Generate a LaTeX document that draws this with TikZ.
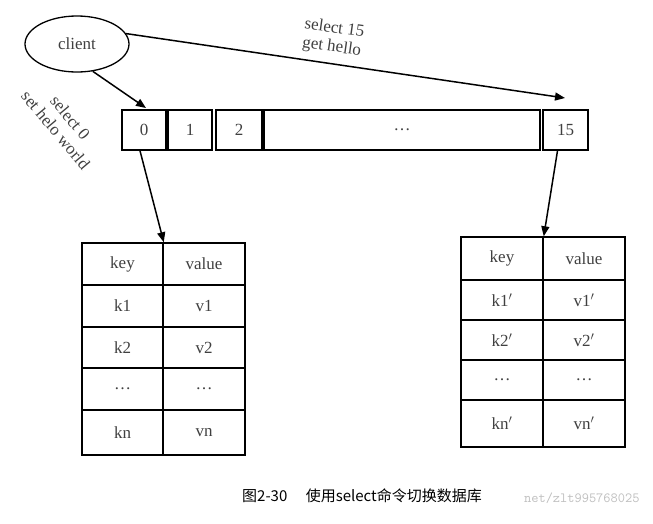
\documentclass[tikz,border=0pt]{standalone}
\usepackage{fontspec}
\setmainfont{Liberation Serif}
\newfontfamily\cjk{Noto Sans CJK SC}
\usetikzlibrary{shapes.geometric,arrows.meta}
\begin{document}
\begin{tikzpicture}[x=1pt,y=-1pt,
  cell/.style={draw,line width=1.5pt,minimum height=0pt,inner sep=0pt,font=\fontsize{17}{19}\selectfont,text=black!75},
  arr/.style={-{Triangle[length=10pt,width=8pt]},line width=1.5pt},
  lbl/.style={font=\fontsize{17}{19}\selectfont,text=black!75,align=center}]
\useasboundingbox (0,0) rectangle (653,523);
\node[draw,ellipse,line width=1.3pt,minimum width=104pt,minimum height=56pt,font=\fontsize{17}{19}\selectfont,text=black!75] (client) at (77,44) {client};
\def\cellbox#1#2#3#4{\node[cell,minimum width=#3-#2,minimum height=40pt] (#1) at ({(#2+#3)/2},130) {#4};}
\cellbox{b0}{122}{166}{0}
\cellbox{b1}{168}{212}{1}
\cellbox{b2}{216}{262}{2}
\cellbox{bd}{264}{540}{\dots}
\cellbox{b15}{543}{588}{15}
\coordinate (t0) at (146,108);
\coordinate (t15) at (565,98);
\draw[arr] (client.-60) -- (t0);
\draw[arr] (client.12) -- (t15);
\node[lbl,rotate=-8] (l15) at (333,38) {select 15\\get hello};
\node[lbl,rotate=-50] (l0) at (63,124) {select 0\\set helo world};
\foreach \a/\b/\k/\v/\n in {243/285/key/value/L0,285/327/k1/v1/L1,327/368/k2/v2/L2,368/410/\dots/\dots/L3,410/455/kn/vn/L4}{
  \node[cell,minimum width=81pt,minimum height=\b-\a] (\n k) at ({(82+163)/2},{(\a+\b)/2}) {\k};
  \node[cell,minimum width=82pt,minimum height=\b-\a] (\n v) at ({(163+245)/2},{(\a+\b)/2}) {\v};
}
\foreach \a/\b/\k/\v/\n in {237/280/key/value/R0,280/320/k1$'$/v1$'$/R1,320/360/k2$'$/v2$'$/R2,360/400/\dots/\dots/R3,400/447/kn$'$/vn$'$/R4}{
  \node[cell,minimum width=82pt,minimum height=\b-\a] (\n k) at ({(461+543)/2},{(\a+\b)/2}) {\k};
  \node[cell,minimum width=82pt,minimum height=\b-\a] (\n v) at ({(543+625)/2},{(\a+\b)/2}) {\v};
}
\draw[arr] ([xshift=-4pt]b0.south) -- (L0k.north east);
\draw[arr] ([xshift=-8pt]b15.south) -- (R0k.north east);
\node[font=\cjk\fontsize{15}{17}\selectfont] (cap) at (362,496) {图2-30\quad\ 使用select命令切换数据库};
\node[font=\ttfamily\fontsize{14}{16}\selectfont,text=black!25,anchor=east] (wm) at (643,498) {net/zlt995768025};
\end{tikzpicture}
\end{document}
